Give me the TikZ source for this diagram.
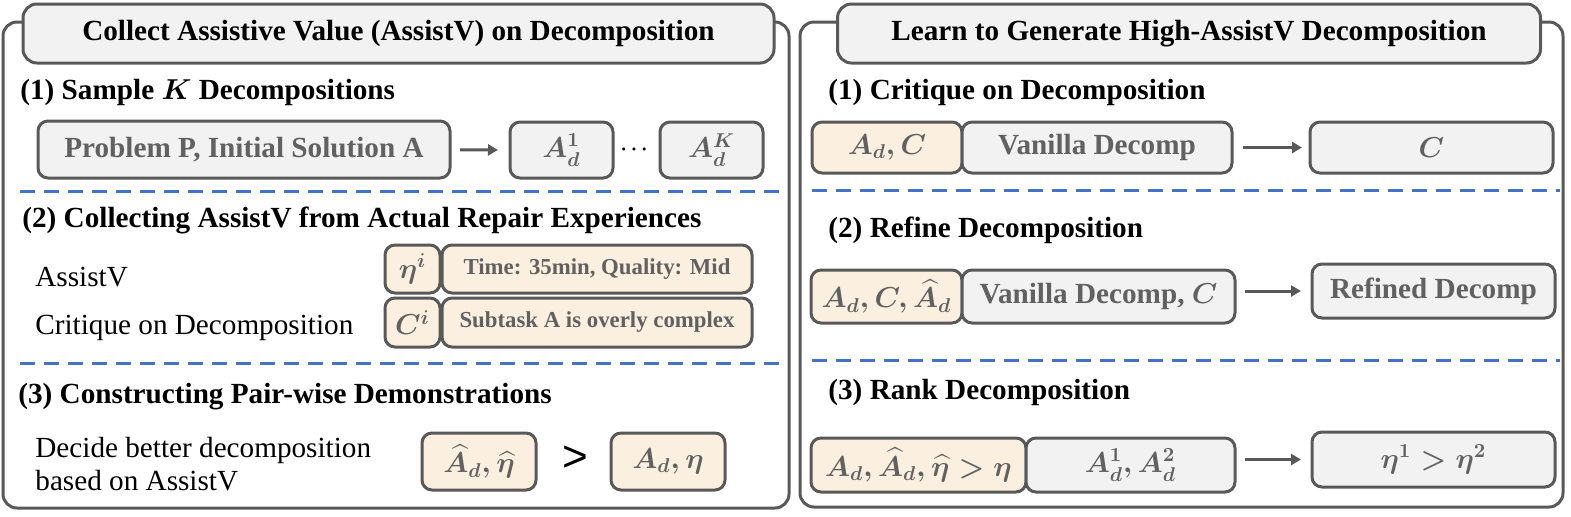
\documentclass[tikz,border=0pt]{standalone}
\usepackage{amsmath}
\usepackage{fontspec}
\setmainfont{Liberation Serif}
\newfontfamily\gtsans{Liberation Sans}
\usetikzlibrary{arrows.meta}
\definecolor{bord}{HTML}{595959}
\definecolor{boxgray}{HTML}{F2F2F2}
\definecolor{beige}{HTML}{FBF0DF}
\definecolor{dashblue}{HTML}{4472C4}
\definecolor{txtgray}{HTML}{616161}
\newcommand\fmain{\fontsize{14.6}{17.5}\selectfont}
\newcommand\fsmall{\fontsize{11.4}{13.5}\selectfont}
\newcommand\ftwo{\fontsize{14.6}{16.5}\selectfont}
\begin{document}
\begin{tikzpicture}[x=0.5pt,y=-0.5pt,
  panel/.style={draw=bord, line width=1.5pt, rounded corners=7pt, fill=white},
  titlebox/.style={draw=bord, line width=1.5pt, rounded corners=7pt, fill=boxgray,
    font=\fmain\bfseries, text=black, inner sep=0pt},
  gbox/.style={draw=bord, line width=1.5pt, rounded corners=5pt, fill=boxgray,
    text=txtgray, font=\fmain\bfseries\boldmath, inner sep=0pt, outer sep=0pt},
  bbox/.style={gbox, fill=beige},
  head/.style={anchor=west, font=\fmain\bfseries\boldmath, inner sep=0pt},
  plain/.style={anchor=west, font=\fmain, inner sep=0pt},
  sep/.style={draw=dashblue, line width=1.5pt, dash pattern=on 7.5pt off 4.5pt},
  arr/.style={draw=bord, line width=1.5pt, -{Triangle[length=5pt,width=5.5pt]}},
]
\useasboundingbox (0,0) rectangle (1571,516);

% ---------------- left panel ----------------
\draw[panel] (3,22) rectangle (789,508);
\node[titlebox, minimum width=375.5pt, minimum height=29.5pt] (tl) at (398.5,33.5)
  {Collect Assistive Value (AssistV) on Decomposition};

\node[head] (h1l) at (20,92) {(1) Sample $K$ Decompositions};
\node[gbox, minimum width=206pt, minimum height=28.5pt] (prob) at (244,149.5)
  {Problem P, Initial Solution A};
\node[gbox, minimum width=51.5pt, minimum height=28pt] (a1) at (561.5,150) {$A_d^1$};
\node[font=\fontsize{10}{10}\selectfont\boldmath, inner sep=0pt] (dots) at (636,150) {$\cdots$};
\node[gbox, minimum width=51.5pt, minimum height=28pt] (ak) at (711.5,150) {$A_d^K$};
\draw[arr, shorten <=5pt, shorten >=6pt] (prob) -- (a1);

\coordinate (d1a) at (20,191); \coordinate (d1b) at (786,191);
\draw[sep] (d1a) -- (d1b);

\node[head] (h2l) at (22,220) {(2) Collecting AssistV from Actual Repair Experiences};
\node[plain] (lav) at (35,277) {AssistV};
\node[plain] (lcd) at (35,328) {Critique on Decomposition};
\node[bbox, minimum width=27.5pt, minimum height=24pt] (eta) at (412.5,269) {$\eta^i$};
\node[bbox, minimum width=155pt, minimum height=24pt, font=\fsmall\bfseries] (time) at (597,269)
  {Time: 35min, Quality: Mid};
\node[bbox, minimum width=27.5pt, minimum height=24.5pt] (ci) at (412.5,322.5) {$C^i$};
\node[bbox, minimum width=155pt, minimum height=24.5pt, font=\fsmall\bfseries] (sub) at (597,322.5)
  {Subtask A is overly complex};

\coordinate (d2a) at (20,363); \coordinate (d2b) at (786,363);
\draw[sep] (d2a) -- (d2b);

\node[head] (h3l) at (18,397) {(3) Constructing Pair-wise Demonstrations};
\node[plain, align=left, font=\ftwo] (dec) at (35,464)
  {Decide better decomposition\\based on AssistV};
\node[bbox, minimum width=57pt, minimum height=28.5pt] (hat) at (479,461.5)
  {$\widehat{A}_d, \widehat{\eta}$};
\node[font=\gtsans\fontsize{22}{22}\selectfont, inner sep=0pt] (gt) at (575,459) {>};
\node[bbox, minimum width=57pt, minimum height=28.5pt] (plainb) at (668,461.5)
  {$A_d, \eta$};

% ---------------- right panel ----------------
\draw[panel] (800,22) rectangle (1563,507);
\node[titlebox, minimum width=351.5pt, minimum height=29.5pt] (tr) at (1189,33.5)
  {Learn to Generate High-AssistV Decomposition};

\node[head] (h1r) at (828,92) {(1) Critique on Decomposition};
\node[bbox, minimum width=75pt, minimum height=25.5pt] (r1a) at (887,147.5) {$A_d, C$};
\node[gbox, minimum width=135pt, minimum height=25.5pt] (r1b) at (1097,147.5) {Vanilla Decomp};
\node[gbox, minimum width=121.5pt, minimum height=25.5pt] (r1c) at (1431.5,147.5) {$C$};
\draw[arr, shorten <=5.5pt, shorten >=4pt] (r1b) -- (r1c);

\coordinate (d3a) at (812,190); \coordinate (d3b) at (1560,190);
\draw[sep] (d3a) -- (d3b);

\node[head] (h2r) at (828,230) {(2) Refine Decomposition};
\node[bbox, minimum width=75.5pt, minimum height=26.5pt] (r2a) at (886.5,296.5)
  {$A_d, C, \widehat{A}_d$};
\node[gbox, minimum width=136.5pt, minimum height=26.5pt] (r2b) at (1098.5,296.5)
  {Vanilla Decomp, $C$};
\node[gbox, minimum width=121.5pt, minimum height=27pt] (r2c) at (1433.5,291) {Refined Decomp};
\draw[arr, shorten <=5pt, shorten >=5.5pt] (r2b.east |- r2c.center) -- (r2c);

\coordinate (d4a) at (812,360); \coordinate (d4b) at (1560,360);
\draw[sep] (d4a) -- (d4b);

\node[head] (h3r) at (828,392) {(3) Rank Decomposition};
\node[bbox, minimum width=107.5pt, minimum height=27pt] (r3a) at (918.5,465)
  {$A_d, \widehat{A}_d, \widehat{\eta} > \eta$};
\node[gbox, minimum width=104.5pt, minimum height=27pt] (r3b) at (1130.5,465)
  {$A_d^1, A_d^2$};
\node[gbox, minimum width=121.5pt, minimum height=27.5pt] (r3c) at (1433.5,459.5)
  {$\eta^1 > \eta^2$};
\draw[arr, shorten <=5pt, shorten >=5.5pt] (r3b.east |- r3c.center) -- (r3c);
\end{tikzpicture}
\end{document}
